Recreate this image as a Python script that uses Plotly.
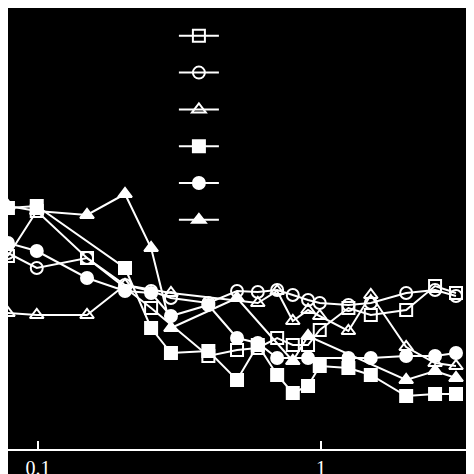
import plotly.graph_objects as go

# x values (log axis)
x_s1 = [0.0783, 0.099, 0.149, 0.251, 0.40, 0.505, 0.598, 0.70, 0.795, 0.90, 0.99, 1.25, 1.5, 2.0, 2.53, 3.0]
y_s1 = [193, 238, 191, 141, 93, 99, 101, 111, 104, 104, 119, 141, 134, 139, 163, 156]   # open squares
x_s2 = [0.0783, 0.099, 0.149, 0.203, 0.251, 0.295, 0.40, 0.505, 0.598, 0.70, 0.795, 0.90, 0.99, 1.25, 1.5, 2.0, 2.53, 3.0]
y_s2 = [196, 181, 191, 164, 158, 151, 146, 158, 157, 159, 154, 149, 146, 144, 146, 156, 159, 153]  # open circles
x_s3 = [0.0783, 0.099, 0.149, 0.203, 0.295, 0.598, 0.70, 0.795, 0.90, 0.99, 1.25, 1.5, 2.0, 2.53, 3.0]
y_s3 = [136, 134, 134, 164, 156, 146, 158, 128, 139, 133, 118, 154, 102, 86, 83]   # open triangles
x_s4 = [0.0783, 0.099, 0.203, 0.251, 0.295, 0.40, 0.505, 0.598, 0.70, 0.795, 0.90, 0.99, 1.25, 1.5, 2.0, 2.53, 3.0]
y_s4 = [241, 243, 181, 121, 96, 98, 69, 104, 74, 56, 63, 83, 81, 74, 53, 55, 55]   # filled squares
x_s5 = [0.0783, 0.099, 0.149, 0.203, 0.251, 0.295, 0.40, 0.505, 0.598, 0.70, 0.90, 1.25, 1.5, 2.0, 2.53, 3.0]
y_s5 = [206, 198, 171, 158, 156, 133, 144, 111, 106, 91, 91, 91, 91, 93, 93, 96]   # filled circles
x_s6 = [0.0783, 0.099, 0.149, 0.203, 0.251, 0.295, 0.505, 0.795, 0.90, 2.0, 2.53, 3.0]
y_s6 = [243, 238, 234, 255, 201, 121, 151, 88, 113, 69, 78, 71]   # filled triangles

series = [
    (x_s1, y_s1, "square-open"),
    (x_s2, y_s2, "circle-open"),
    (x_s3, y_s3, "triangle-up-open"),
    (x_s4, y_s4, "square"),
    (x_s5, y_s5, "circle"),
    (x_s6, y_s6, "triangle-up"),
]

fig = go.Figure()
for xs, ys, sym in series:
    fig.add_trace(go.Scatter(
        x=xs, y=ys, mode="lines+markers", name=" ",
        line=dict(color="white", width=2),
        marker=dict(symbol=sym, size=12, color="white",
                    line=dict(color="white", width=2)),
    ))

fig.update_layout(
    width=474, height=474,
    paper_bgcolor="black", plot_bgcolor="black",
    margin=dict(l=0, r=0, t=0, b=33, pad=0, autoexpand=False),
    font=dict(family="Liberation Serif", color="white", size=20),
    showlegend=True,
    legend=dict(x=0.35, y=0.99, xanchor="left", yanchor="top",
                bgcolor="rgba(0,0,0,0)", font=dict(size=26, color="white"),
                itemwidth=40, tracegroupgap=0),
    xaxis=dict(type="log", range=[-1.106, 0.569], showgrid=False, zeroline=False,
               automargin=False,
               showline=True, linecolor="white", linewidth=2,
               tickvals=[0.1, 1], ticktext=["0.1", "1"],
               ticks="inside", ticklen=8, tickcolor="white", tickwidth=2,
               tickfont=dict(family="Liberation Serif", size=20, color="white")),
    yaxis=dict(range=[0, 441], visible=False, automargin=False),
)
fig.write_html("out.html")
